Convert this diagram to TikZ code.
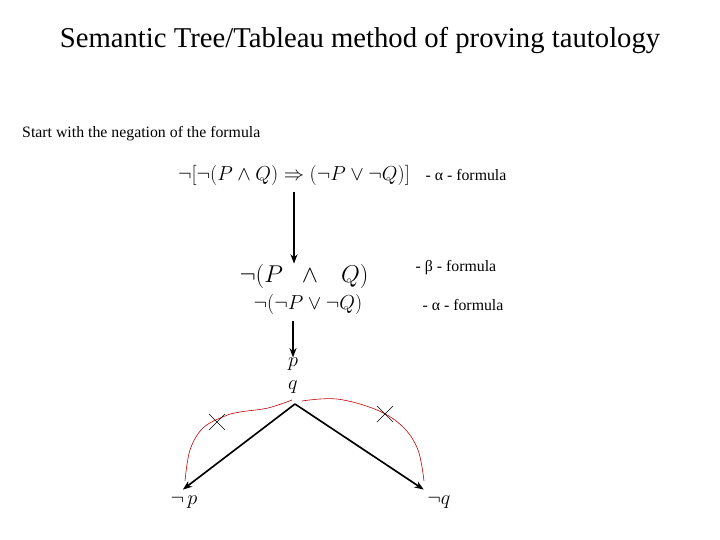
\documentclass[tikz,border=0pt]{standalone}
\usepackage{fontspec}
\setmainfont{Liberation Serif}
\usetikzlibrary{arrows.meta}
\begin{document}
\begin{tikzpicture} [
            x=0.03cm, y=-0.03cm,
            formula/.style={inner sep=0pt,font=\fontsize{17}{20}\selectfont},
            note/.style={inner sep=0pt,font=\fontsize{13.5}{16}\selectfont},
            branch/.style = {draw,line width=1.4pt,-{Stealth[length=8pt,width=6pt]}},
            closure/.style = {draw,red!75!black,line width=0.5pt},
        ]
        \useasboundingbox (0,0) rectangle (720,540);
        \node (title) at (360,40) {\fontsize{24.5}{28}\selectfont Semantic Tree/Tableau method of proving tautology};
        \node[note,anchor=west] (start) at (22,134) {Start with the negation of the formula};
        \node[formula] (f1) at (294,175) {$\neg[\neg(P\wedge Q)\Rightarrow(\neg P\vee\neg Q)]$};
        \node[formula,font=\fontsize{22}{26}\selectfont] (f2) at (304,276) {$\neg(P\;\;\wedge\;\;\,Q)$};
        \node[formula,font=\fontsize{18.5}{22}\selectfont] (f3) at (308,304) {$\neg(\neg P\vee\neg Q)$};
        \foreach \pos/\name/\kind in {
                {(466,175)/a1/α}, {(456,268)/b1/β}, {(463,305)/a2/α}}
            \node[note] (\name) at \pos {- \kind\ - formula};
        \node[formula] (p) at (293,364) {$p$};
        \node[formula] (q) at (293,387) {$q$};
        \node[formula] (negp) at (184,502) {$\neg\,p$};
        \node[formula] (negq) at (439,502) {$\neg q$};
        \coordinate (split) at (295,404);
        \path[branch] ([yshift=-6pt]f1.south) -- (f1.south |- f2.north);
        \path[branch] (p.north |- f3.south) ++(0,-6pt) -- (p.north);
        \path[branch] (split) -- ([shift={(-1pt,5pt)}]negp.north);
        \path[branch] (split) -- ([shift={(-3pt,5pt)}]negq.north west);
        % closed branches
        \path[closure] plot[smooth,tension=0.6] coordinates {
                (292,400) (268,408) (240,412) (225,416) (203,428) (190,450) (185,481)};
        \path[closure] plot[smooth,tension=0.6] coordinates {
                (302,401) (337,399) (377,410) (403,427) (418,450) (424,481)};
        \foreach \x/\y in {217/422, 385/414}
            \draw[line width=0.4pt] (\x-8,\y-8) -- (\x+8,\y+8) (\x-8,\y+8) -- (\x+8,\y-8);
    \end{tikzpicture}
\end{document}
